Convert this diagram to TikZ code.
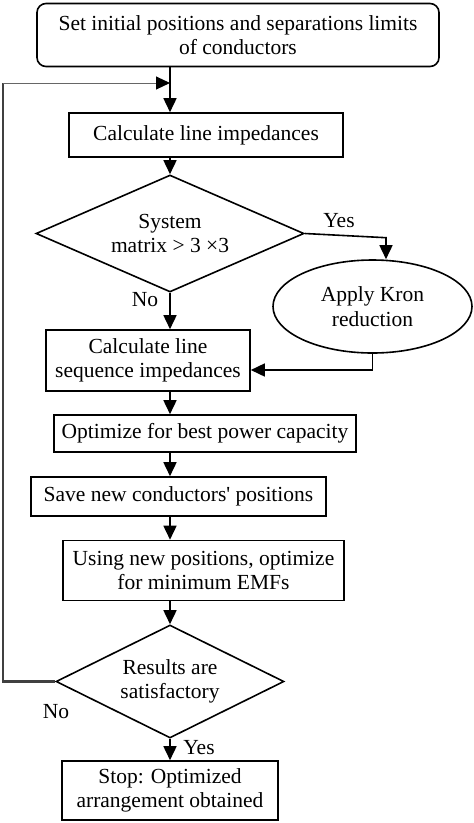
\documentclass[tikz,border=0pt]{standalone}
\usepackage{fontspec}
\setmainfont{Liberation Serif}
\usetikzlibrary{shapes.geometric,arrows.meta,calc}
\begin{document}
\begin{tikzpicture}[x=1pt,y=-1pt,
  txt/.style={font=\fontsize{21.5}{24.5}\selectfont, align=center, inner sep=0pt},
  procbox/.style={txt, draw, rectangle, line width=1.6pt},
  startbox/.style={procbox, rounded corners=9pt},
  decbox/.style={txt, draw, diamond, line width=1.6pt},
  kronbox/.style={txt, draw, ellipse, line width=1.6pt},
  lbl/.style={txt},
  tip/.style={-{Triangle[length=14pt,width=13pt]}},
  arr/.style={line width=1.6pt, tip},
  conn/.style={line width=1.6pt}
]
\useasboundingbox (0,0) rectangle (474,823);
\fill[white] (0,0) rectangle (474,823);

\node[startbox, minimum width=402pt, minimum height=63pt] (start) at (238,35) {Set initial positions and separations limits\\of conductors};
\node[procbox, minimum width=274pt, minimum height=44pt] (imp) at (206,135) {Calculate line impedances};
\node[decbox, aspect=2.29, minimum width=268pt, minimum height=117pt] (sys) at (170,233.5) {System\\matrix > 3 ×3};
\node[kronbox, minimum width=199pt, minimum height=93pt] (kron) at (372.5,306.5) {Apply Kron\\reduction};
\node[procbox, minimum width=204pt, minimum height=61pt] (seq) at (148,360.5) {Calculate line\\sequence impedances};
\node[procbox, minimum width=302pt, minimum height=37pt] (opt) at (205,433.5) {Optimize for best power capacity};
\node[procbox, minimum width=295pt, minimum height=39pt] (save) at (178.5,496.5) {Save new conductors\textquotesingle{} positions};
\node[procbox, minimum width=281pt, minimum height=60pt] (emf) at (203.5,570.5) {Using new positions, optimize\\for minimum EMFs};
\node[decbox, aspect=2.02, minimum width=228pt, minimum height=113pt] (res) at (170,681.5) {Results are\\satisfactory};
\node[procbox, minimum width=216pt, minimum height=59pt] (stop) at (170,790.5) {Stop: Optimized\\arrangement obtained};

\node[lbl] (yes1) at (339,221) {Yes};
\node[lbl] (no1) at (145,300) {No};
\node[lbl] (no2) at (56,712) {No};
\node[lbl] (yes2) at (199,748) {Yes};

\coordinate (yk) at (386,237.7);
\coordinate (kc) at (372.5,370);
\coordinate (fbl) at (3,681.5);
\coordinate (fbt) at (3,83);

\draw[arr] (start.south -| sys.north) -- (imp.north -| sys.north);
\draw[arr] (imp.south -| sys.north) -- (sys.north);
\draw[arr] (sys.south) -- (seq.north -| sys.south);
\draw[arr] (seq.south -| sys.south) -- (opt.north -| sys.south);
\draw[arr] (opt.south -| sys.south) -- (save.north -| sys.south);
\draw[arr] (save.south -| sys.south) -- (emf.north -| sys.south);
\draw[arr] (emf.south -| res.north) -- (res.north);
\draw[arr] (res.south) -- (stop.north);

\draw[arr] (sys.east) -- (yk) -- (yk |- kron.north);
\draw[arr] (kron.south) -- (kc) -- (kc -| seq.east);

\draw[line width=2.4pt, black!75] (res.west) -- (fbl) -- (fbt);
\draw[line width=1pt, black!60, -{Triangle[length=14pt,width=13pt,fill=black,color=black]}] (fbt) -- (fbt -| sys.north);
\end{tikzpicture}
\end{document}
